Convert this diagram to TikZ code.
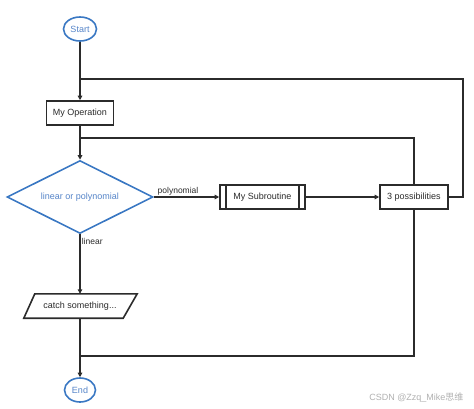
\documentclass[tikz,border=0pt]{standalone}
\usepackage{fontspec}
\setmainfont{Liberation Sans}
\newfontfamily\cjk{Noto Sans CJK SC}
\usetikzlibrary{shapes.geometric,arrows.meta}
\definecolor{dk}{HTML}{2B2B2B}
\definecolor{bl}{HTML}{3A78C3}
\definecolor{blt}{HTML}{5584C8}
\definecolor{wm}{HTML}{B0B0B0}
\tikzset{
  every node/.style={font=\fontsize{9}{10}\selectfont, text=dk},
  term/.style={ellipse, draw=bl, line width=1.6pt, text=blt, inner sep=0pt},
  procbox/.style={rectangle, draw=dk, line width=1.6pt, inner sep=0pt},
  decis/.style={diamond, aspect=2, draw=bl, line width=1.6pt, text=blt, inner sep=0pt},
  plain/.style={rectangle, inner sep=0pt},
  ln/.style={draw=dk, line width=1.7pt},
  arr/.style={ln, -{Triangle[length=4.5pt,width=4.5pt]}},
  lbl/.style={font=\fontsize{8.5}{9}\selectfont, inner sep=1pt}
}
\begin{document}
\begin{tikzpicture}[x=1pt,y=-1pt]
\useasboundingbox (0,0) rectangle (474,408);
\node[term, minimum width=33pt, minimum height=24pt] (start) at (80,29) {Start};
\node[procbox, minimum width=67pt, minimum height=24pt] (op) at (80,113) {My Operation};
\node[decis, minimum width=146pt, minimum height=73pt] (dec) at (80,197) {linear or polynomial};
\node[procbox, minimum width=85pt, minimum height=24pt] (sub) at (262.5,197) {My Subroutine};
\draw[procbox] ([xshift=7pt]sub.north west) -- ([xshift=7pt]sub.south west);
\draw[procbox] ([xshift=-7pt]sub.north east) -- ([xshift=-7pt]sub.south east);
\node[procbox, minimum width=68pt, minimum height=24pt] (poss) at (414,197) {3 possibilities};
\node[plain, minimum width=102pt, minimum height=24pt] (catch) at (80,306) {catch something...};
\draw[procbox, line join=miter] ([xshift=6pt]catch.north west) -- ([xshift=6pt]catch.north east)
  -- ([xshift=-8pt]catch.south east) -- ([xshift=-5pt]catch.south west) -- cycle;
\node[term, minimum width=31pt, minimum height=24pt] (end) at (80,390) {End};

\coordinate (j1) at (80,79);
\coordinate (r1) at (463,79);
\coordinate (j2) at (80,138);
\coordinate (j3) at (80,356);

\draw[arr] (start) -- (op);
\draw[arr] (op) -- (dec);
\draw[arr] (dec) -- node[lbl, above, pos=0.37] {polynomial} (sub);
\draw[arr] (sub) -- (poss);
\draw[arr] (dec) -- node[lbl, right, pos=0.12] {linear} (catch);
\draw[arr] (catch) -- (end);
\draw[ln] (poss.east) -| (r1) -- (j1);
\draw[ln] (poss.north) |- (j2);
\draw[ln] (poss.south) |- (j3);

\node[text=wm, anchor=east, font=\fontsize{9}{10}\selectfont] (wmk) at (467,398) {CSDN @Zzq\_Mike{\cjk 思维}};
\end{tikzpicture}
\end{document}
